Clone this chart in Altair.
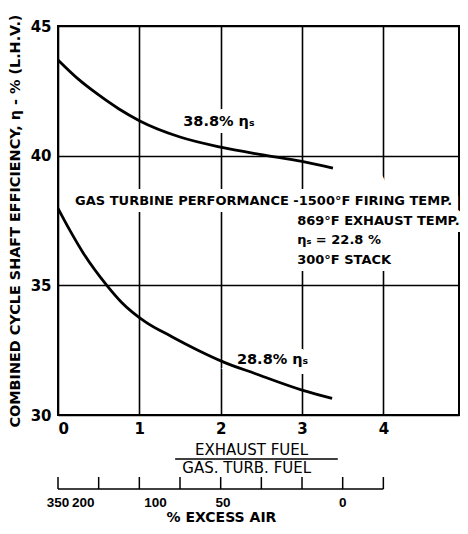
import altair as alt
import pandas as pd

# ---- data ----
upper_x = [0, 0.25, 0.5, 0.75, 1.0, 1.5, 2.0, 2.5, 3.0, 3.38]
upper_y = [43.69, 42.95, 42.34, 41.8, 41.35, 40.72, 40.33, 40.04, 39.78, 39.52]
lower_x = [0, 0.15, 0.31, 0.6, 0.78, 1.07, 1.4, 1.72, 2.03, 2.42, 3.01, 3.37]
lower_y = [37.97, 37.1, 36.25, 35.0, 34.35, 33.6, 33.02, 32.5, 32.05, 31.6, 30.95, 30.64]

x_ticks = [0, 1, 2, 3, 4]
y_ticks = [30, 35, 40, 45]

curve_labels = ["38.8%  ηₛ", "28.8%  ηₛ"]
curve_label_x = [1.54, 2.2]
curve_label_y = [41.3, 32.12]

note_lines = ["GAS TURBINE PERFORMANCE -1500°F FIRING TEMP.",
              "869°F EXHAUST TEMP.",
              "ηₛ = 22.8 %",
              "300°F  STACK"]
note_x = [0.21, 2.94, 2.94, 2.94]
note_y = [38.24, 37.47, 36.75, 35.98]

air_tick_x = [0, 0.5, 1, 1.5, 2, 2.5, 3, 3.5, 4]
air_labels = ["350", "200", "100", "50", "0"]
air_label_x = [0, 0.31, 1.2, 2.03, 3.5]

FONT = "DejaVu Sans"

curves = pd.DataFrame({
    "x": upper_x + lower_x,
    "y": upper_y + lower_y,
    "series": ["upper"] * len(upper_x) + ["lower"] * len(lower_x),
})
cl = pd.DataFrame({"x": curve_label_x, "y": curve_label_y, "t": curve_labels})
notes = pd.DataFrame({"x": note_x, "y": note_y, "t": note_lines})
air_ticks = pd.DataFrame({"x": air_tick_x})
air_lab = pd.DataFrame({"x": air_label_x, "t": air_labels})

xs = alt.Scale(domain=[0, 4.93], nice=False, zero=False)
ys = alt.Scale(domain=[30, 45], nice=False, zero=False)

xaxis = alt.Axis(values=x_ticks, grid=True, gridColor="black", gridWidth=1.6, gridOpacity=1,
                 ticks=False, domain=False, labelFont=FONT, labelFontSize=15, labelFontWeight="bold",
                 labelColor="black", labelPadding=6, title=None)
yaxis = alt.Axis(values=y_ticks, grid=True, gridColor="black", gridWidth=1.6, gridOpacity=1,
                 ticks=False, domain=False, labelFont=FONT, labelFontSize=15, labelFontWeight="bold",
                 labelColor="black", labelPadding=7,
                 title="COMBINED CYCLE SHAFT EFFICIENCY, η - % (L.H.V.)",
                 titleFont=FONT, titleFontSize=14.4, titleFontWeight="bold", titleColor="black",
                 titleAngle=270, titleAlign="left", titleBaseline="middle", titleX=-43, titleY=401)


def X(field):
    return alt.X(field, scale=xs, axis=xaxis)


def Y(field):
    return alt.Y(field, scale=ys, axis=yaxis)


def text_layer(df, size, halo):
    kw = dict(align="left", baseline="middle", font=FONT, fontSize=size, fontWeight="bold")
    if halo:
        kw.update(color="white", stroke="white", strokeWidth=14)
    else:
        kw.update(color="black")
    return alt.Chart(df).mark_text(**kw).encode(x=X("x:Q"), y=Y("y:Q"), text="t:N")


line = alt.Chart(curves).mark_line(color="black", strokeWidth=2.8, interpolate="monotone").encode(
    x=X("x:Q"), y=Y("y:Q"), detail="series:N")

# fraction-style x-axis title
frac_top = alt.Chart(pd.DataFrame({"x": [2.38], "t": ["EXHAUST FUEL"]})).mark_text(
    align="center", baseline="middle", font=FONT, fontSize=15, color="black").encode(
    x=X("x:Q"), y=alt.value(424), text="t:N")
frac_bot = alt.Chart(pd.DataFrame({"x": [2.32], "t": ["GAS. TURB. FUEL"]})).mark_text(
    align="center", baseline="middle", font=FONT, fontSize=15, color="black").encode(
    x=X("x:Q"), y=alt.value(442), text="t:N")
frac_rule = alt.Chart(pd.DataFrame({"a": [1.44], "b": [3.44]})).mark_rule(
    color="black", strokeWidth=1.6).encode(x=X("a:Q"), x2="b:Q", y=alt.value(433))

# secondary % excess air scale
air_base = alt.Chart(pd.DataFrame({"a": [air_tick_x[0]], "b": [air_tick_x[-1]]})).mark_rule(
    color="black", strokeWidth=1.5).encode(x=X("a:Q"), x2="b:Q", y=alt.value(463))
air_tk = alt.Chart(air_ticks).mark_rule(color="black", strokeWidth=1.5).encode(
    x=X("x:Q"), y=alt.value(451), y2=alt.value(463))
air_txt = alt.Chart(air_lab).mark_text(align="center", baseline="middle", font="Liberation Sans",
                                       fontSize=13.5, fontWeight="bold", color="black").encode(
    x=X("x:Q"), y=alt.value(477), text="t:N")
air_title = alt.Chart(pd.DataFrame({"x": [2.01], "t": ["% EXCESS AIR"]})).mark_text(
    align="center", baseline="middle", font=FONT, fontSize=14, fontWeight="bold",
    color="black").encode(x=X("x:Q"), y=alt.value(492), text="t:N")

chart = alt.layer(text_layer(notes, 13, True), text_layer(cl, 14.5, True), line,
                  text_layer(notes, 13, False), text_layer(cl, 14.5, False),
                  frac_top, frac_bot, frac_rule,
                  air_base, air_tk, air_txt, air_title).properties(
    width=401, height=389, autosize="none", background="white",
    padding={"left": 50, "top": 18, "right": 1, "bottom": 111},
).configure_view(stroke="black", strokeWidth=2)

chart.save("out.html", embed_options={"renderer": "svg", "actions": False})
